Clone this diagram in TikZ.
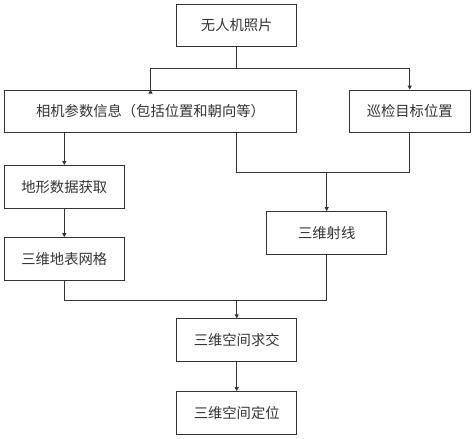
\documentclass[tikz,border=0pt]{standalone}
\usepackage{fontspec}
\newfontfamily\cjk{Noto Sans CJK SC}
\usetikzlibrary{arrows.meta}
\begin{document}
\begin{tikzpicture}[x=1pt,y=-1pt,
  box/.style={draw=black!80,line width=0.9pt,minimum height=42.5pt,inner sep=0pt,font=\cjk\fontsize{14.3}{16}\selectfont,text=black!80},
  conn/.style={draw=black!80,line width=0.9pt},
  arr/.style={conn,-{Triangle[length=4pt,width=4pt]}}]
\useasboundingbox (0,0) rectangle (474,439);
\node[box,minimum width=120pt] (photo) at (236.7,25.5) {无人机照片};
\node[box,minimum width=292.4pt] (cam) at (150.5,111.3) {相机参数信息（包括位置和朝向等）};
\node[box,minimum width=120.7pt] (target) at (409.7,111.3) {巡检目标位置};
\node[box,minimum width=120pt] (terrain) at (64.3,186.7) {地形数据获取};
\node[box,minimum width=120pt] (mesh) at (64.3,258.8) {三维地表网格};
\node[box,minimum width=120pt] (ray) at (326.7,232.8) {三维射线};
\node[box,minimum width=120pt] (inter) at (236.7,340) {三维空间求交};
\node[box,minimum width=120pt] (loc) at (236.7,412.8) {三维空间定位};
\coordinate (j1) at (236.7,68.3);
\coordinate (j2) at (326.7,172.3);
\coordinate (j3) at (236.7,300);
\draw[conn] (photo.south) -- (j1);
\draw[arr] (j1) -| (150.5,90) -- (cam.north);
\draw[arr] (j1) -| (target.north);
\draw[arr] (cam.south -| terrain.north) -- (terrain.north);
\draw[arr] (terrain) -- (mesh);
\draw[conn] (cam.south -| photo.south) |- (j2);
\draw[conn] (target.south) |- (j2);
\draw[arr] (j2) -- (ray.north);
\draw[conn] (mesh.south) |- (j3);
\draw[conn] (ray.south) |- (j3);
\draw[arr] (j3) -- (inter.north);
\draw[arr] (inter) -- (loc);
\end{tikzpicture}
\end{document}
